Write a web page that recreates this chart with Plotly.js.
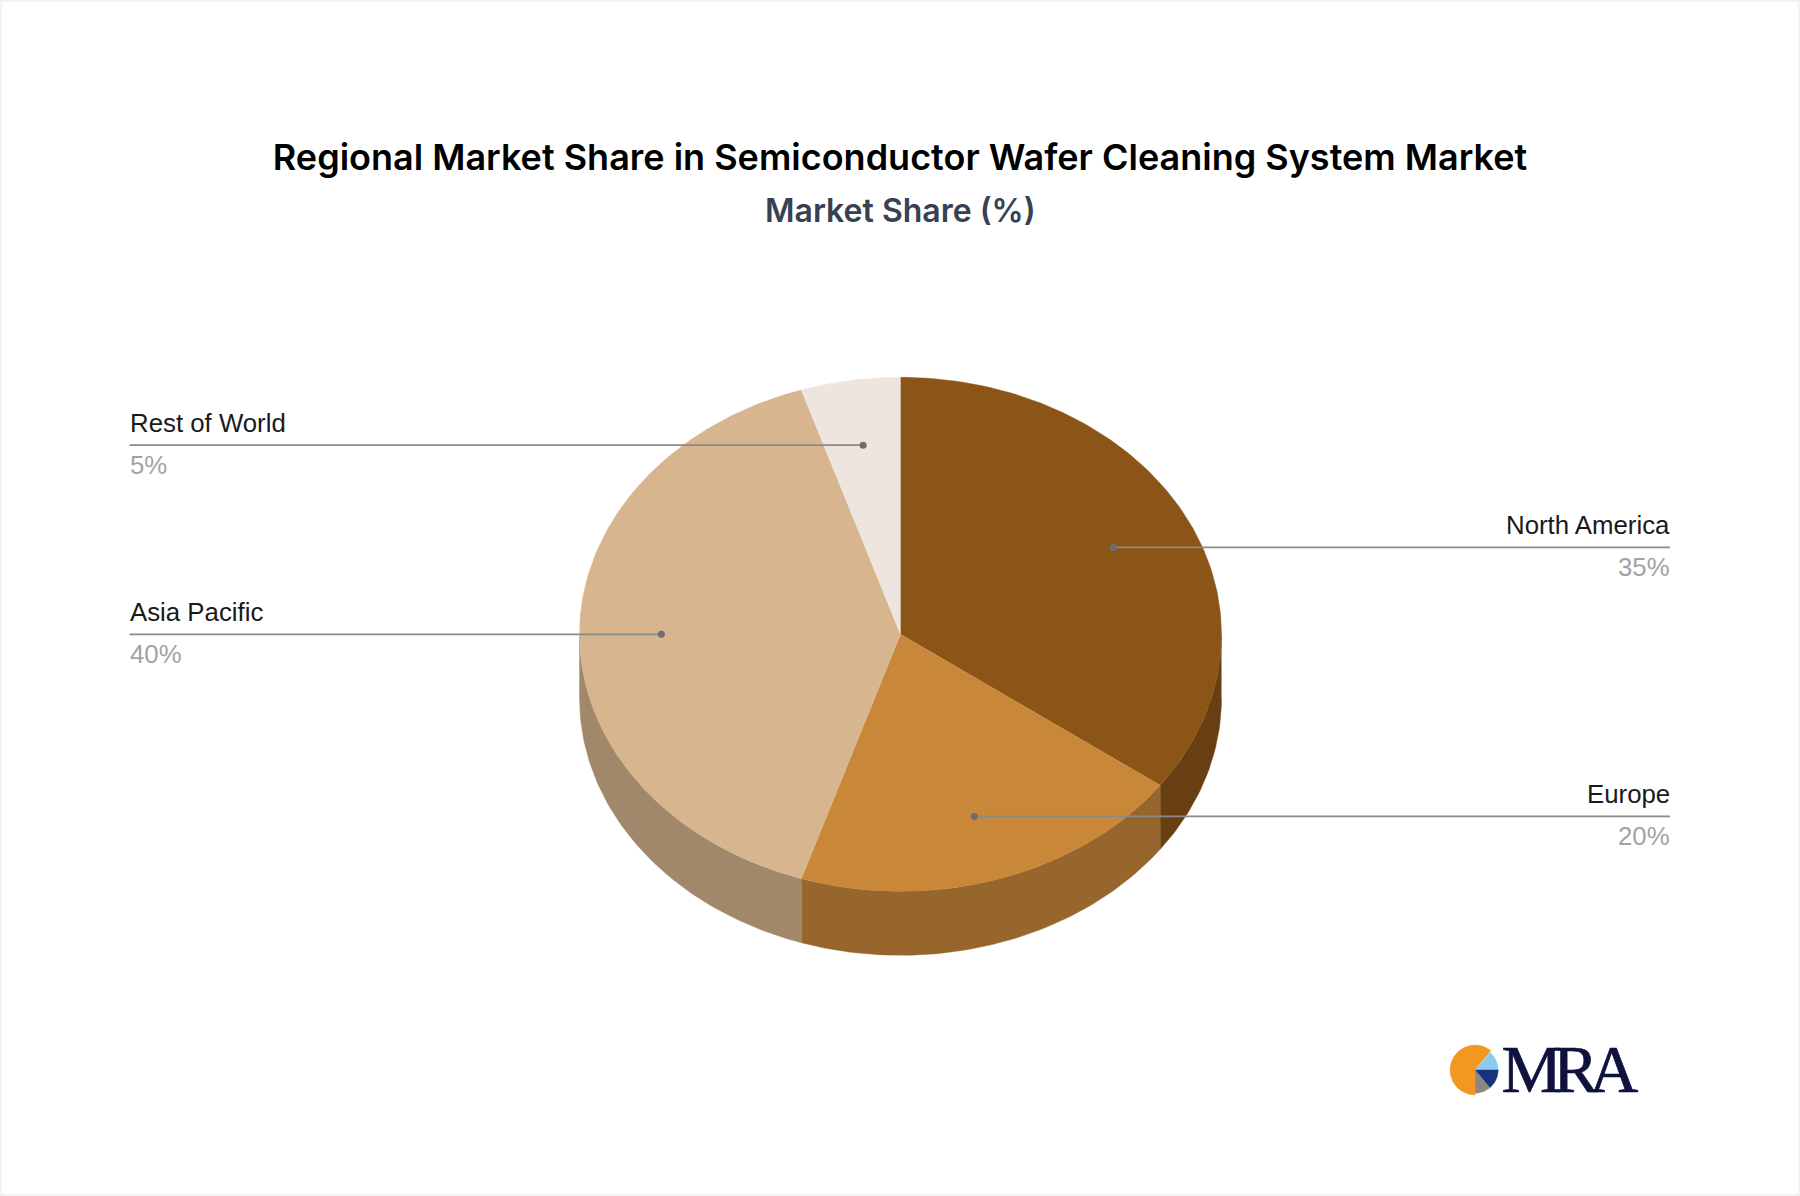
<!DOCTYPE html>
<html><head><meta charset="utf-8">
<script src="https://cdn.plot.ly/plotly-3.0.1.min.js"></script>
<style>html,body{margin:0;padding:0;background:#fff}#chart{width:1800px;height:1196px}</style>
</head><body><div id="chart"></div>
<script>
// ---- data ----
const regions = ["North America", "Europe", "Asia Pacific", "Rest of World"];
const shares = [35, 20, 40, 5];
const topColors = ["#8B5517", "#C9873A", "#D6B58F", "#EEE5DE"];
const sideColors = ["#683F12", "#96662C", "#A1886A", "#B3ACA6"];
const titleText = "Regional Market Share in Semiconductor Wafer Cleaning System Market";
const subtitleText = "Market Share (%)";
const logoText = "MRA";
const logoShares = [61, 14, 14, 11];
const logoColors = ["#F39723", "#8CCBF0", "#15337F", "#8C8781"];
const logoStart = [180, 40, 90, 140];

// ---- geometry of the tilted pie ----
const W = 1800, H = 1196;
const cx = 900.5, cy = 634.3, rx = 321, ry = 257, depth = 64;
const labelLeft = 129.5, labelRight = 1670, dotK = 0.745;
const DEG = Math.PI / 180;

function pt(a, k, dy, c) {
  c = c || {x: cx, y: cy, rx: rx, ry: ry};
  return [c.x + c.rx * k * Math.sin(a * DEG), c.y + (dy || 0) - c.ry * k * Math.cos(a * DEG)];
}
function arc(a, b, k, dy, c) {
  const out = [], n = Math.max(2, Math.ceil(Math.abs(b - a)));
  for (let i = 0; i <= n; i++) out.push(pt(a + (b - a) * i / n, k, dy, c));
  return out;
}
function fillTrace(points, color, name) {
  return {type: "scatter", mode: "lines", x: points.map(p => p[0]), y: points.map(p => p[1]),
    fill: "toself", fillcolor: color, line: {color: color, width: 0.4}, name: name,
    hoverinfo: "name", showlegend: false};
}

const traces = [], annotations = [];
let start = 0;
const spans = shares.map(s => { const a = start; start += s * 3.6; return [a, start]; });

// side wall (front half only)
spans.forEach((sp, i) => {
  const a = Math.max(sp[0], 90), b = Math.min(sp[1], 270);
  if (b <= a) return;
  traces.push(fillTrace(arc(a, b, 1, 0).concat(arc(b, a, 1, depth)), sideColors[i], regions[i]));
});
// top face
spans.forEach((sp, i) => {
  traces.push(fillTrace([[cx, cy]].concat(arc(sp[0], sp[1], 1, 0)), topColors[i], regions[i] + ": " + shares[i] + "%"));
});
// leaders and labels
spans.forEach((sp, i) => {
  const d = pt((sp[0] + sp[1]) / 2, dotK, 0);
  const right = d[0] > cx;
  const end = right ? labelRight : labelLeft;
  const textX = right ? end + 0.5 : end - 1;
  traces.push({type: "scatter", mode: "lines", x: [d[0], end], y: [d[1], d[1]],
    line: {color: "#8A8A8A", width: 1.8}, hoverinfo: "skip", showlegend: false});
  traces.push({type: "scatter", mode: "markers", x: [d[0]], y: [d[1]],
    marker: {color: "#6E6E6E", size: 7}, hoverinfo: "skip", showlegend: false});
  annotations.push({xref: "x", yref: "y", x: textX, y: d[1] - 7, text: regions[i], showarrow: false,
    xanchor: right ? "right" : "left", yanchor: "bottom", borderpad: 0,
    font: {family: "Liberation Sans, Arial, sans-serif", size: 25.8, color: "#1A1A1A"}});
  annotations.push({xref: "x", yref: "y", x: textX, y: d[1] + 5, text: shares[i] + "%", showarrow: false,
    xanchor: right ? "right" : "left", yanchor: "top", borderpad: 0,
    font: {family: "Liberation Sans, Arial, sans-serif", size: 25.8, color: "#A3A3A3"}});
});
// logo
const logo = {x: 1475, y: 1070, rx: 25, ry: 25};
logoShares.forEach((s, i) => {
  const a = logoStart[i], b = a + s * 3.6;
  traces.push(fillTrace([[logo.x, logo.y]].concat(arc(a, b, i === 0 ? 1 : 0.93, 0, logo)), logoColors[i], "logo"));
});
annotations.push({xref: "x", yref: "y", x: 1487, y: 1108, text: logoText, showarrow: false,
  xanchor: "left", yanchor: "bottom", borderpad: 0, captureevents: false,
  font: {family: "Liberation Serif, serif", size: 68, color: "#0E123D"}});
// subtitle
annotations.push({xref: "x", yref: "y", x: 900, y: 210, text: subtitleText, showarrow: false,
  xanchor: "center", yanchor: "middle",
  font: {family: "Inter, sans-serif", size: 32, weight: 600, color: "#374151"}});

const layout = {
  width: W, height: H, autosize: false, margin: {l: 0, r: 0, t: 0, b: 0},
  paper_bgcolor: "#ffffff", plot_bgcolor: "#ffffff", showlegend: false, hovermode: "closest",
  title: {text: titleText, x: 0.5, xanchor: "center", xref: "paper",
    y: 1 - 157 / H, yref: "paper", yanchor: "middle",
    font: {family: "Inter, sans-serif", size: 36, weight: 600, color: "#000000"}},
  xaxis: {range: [0, W], visible: false, fixedrange: true},
  yaxis: {range: [H, 0], visible: false, fixedrange: true},
  annotations: annotations,
  shapes: [{type: "rect", xref: "x", yref: "y", x0: 1, y0: 1, x1: W - 1, y1: H - 1, layer: "below",
    line: {color: "#F3F3F3", width: 2}, fillcolor: "rgba(0,0,0,0)"}]
};
Plotly.newPlot("chart", traces, layout, {displayModeBar: false}).then(() => {
  document.querySelectorAll(".annotation-text").forEach(t => {
    if (t.textContent === logoText) {
      t.style.letterSpacing = "-9px";
      t.style.stroke = "#0E123D";
      t.style.strokeWidth = "0.7px";
    }
  });
});
</script></body></html>
